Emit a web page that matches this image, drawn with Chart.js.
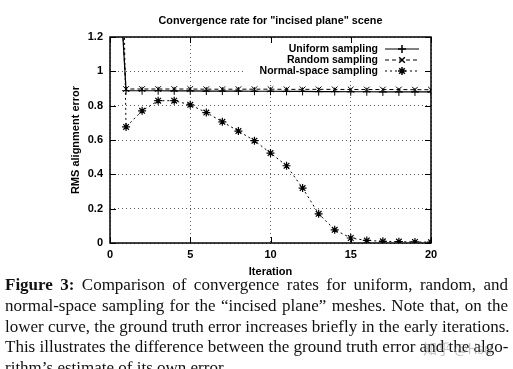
<!DOCTYPE html>
<html>
<head>
<meta charset="utf-8">
<script src="https://cdn.jsdelivr.net/npm/chart.js@4.4.1/dist/chart.umd.min.js"></script>
<style>
  html, body { margin: 0; padding: 0; background: #fff; overflow: hidden; }
  #wrap { position: absolute; left: 0; top: 0; width: 513px; height: 280px; }
  #caption {
    position: absolute; left: 5px; top: 275px; width: 503px;
    font-family: "Liberation Serif", "DejaVu Serif", serif;
    font-size: 17px; line-height: 20.8px; color: #111;
  }
  #caption div { text-align: justify; text-align-last: justify; white-space: nowrap; }
  #caption div.ult { text-align-last: left; }
  #wm { position: absolute; left: 423px; top: 338px; font-family: "Noto Sans CJK SC", sans-serif;
        font-size: 14px; color: rgba(140,140,140,0.5); }
</style>
</head>
<body>
<div id="wrap"><canvas id="graficoConv" width="513" height="280"></canvas></div>
<div id="caption">
  <div><b>Figure 3:</b> Comparison of convergence rates for uniform, random, and</div>
  <div>normal-space sampling for the “incised plane” meshes. Note that, on the</div>
  <div>lower curve, the ground truth error increases briefly in the early iterations.</div>
  <div>This illustrates the difference between the ground truth error and the algo-</div>
  <div class="ult">rithm’s estimate of its own error.</div>
</div>
<div id="wm">知乎 @Hsu</div>
<script>
// datos
const iteraciones = [0,1,2,3,4,5,6,7,8,9,10,11,12,13,14,15,16,17,18,19,20];
const uniforme = [2.5,0.887,0.887,0.887,0.886,0.886,0.885,0.885,0.885,0.884,0.884,0.883,0.883,0.882,0.882,0.881,0.881,0.880,0.880,0.880,0.880];
const aleatorio = [2.5,0.897,0.897,0.897,0.897,0.897,0.896,0.896,0.896,0.896,0.896,0.895,0.895,0.895,0.895,0.894,0.894,0.894,0.894,0.893,0.893];
const espacioNormal = [6,0.676,0.77,0.829,0.829,0.805,0.76,0.706,0.652,0.596,0.524,0.45,0.32,0.17,0.077,0.029,0.015,0.01,0.008,0.006,0.005];
const nombres = ["Uniform sampling", "Random sampling", "Normal-space sampling"];
const titulo = 'Convergence rate for "incised plane" scene';
const ticksX = [0,5,10,15,20];
const ticksY = [0,0.2,0.4,0.6,0.8,1,1.2];

const fuenteEje = { family: "'Liberation Sans', Arial, sans-serif", size: 11, weight: 'bold' };

// marco, ticks interiores, titulo y leyenda estilo gnuplot
const marcoPlugin = {
  id: 'marco',
  beforeDatasetsDraw(chart) {
    const a = chart.chartArea, ctx = chart.ctx;
    // caja opaca de la leyenda
    ctx.save();
    ctx.fillStyle = '#fff';
    ctx.fillRect(243, a.top + 1, a.right - 244, 40);
    ctx.restore();
  },
  afterDatasetsDraw(chart) {
    const a = chart.chartArea, ctx = chart.ctx;
    const sx = chart.scales.x, sy = chart.scales.y;
    ctx.save();
    ctx.strokeStyle = '#000';
    ctx.lineWidth = 1;
    ticksX.forEach(v => {
      const px = Math.round(sx.getPixelForValue(v)) + 0.5;
      ctx.beginPath();
      ctx.moveTo(px, a.bottom); ctx.lineTo(px, a.bottom - 6);
      ctx.moveTo(px, a.top); ctx.lineTo(px, a.top + 6);
      ctx.stroke();
    });
    ticksY.forEach(v => {
      const py = Math.round(sy.getPixelForValue(v)) + 0.5;
      ctx.beginPath();
      ctx.moveTo(a.left, py); ctx.lineTo(a.left + 6, py);
      ctx.moveTo(a.right, py); ctx.lineTo(a.right - 6, py);
      ctx.stroke();
    });
    ctx.lineWidth = 1.5;
    ctx.strokeRect(a.left, a.top, a.right - a.left, a.bottom - a.top);

    ctx.fillStyle = '#000';
    // titulo centrado sobre el area del grafico
    ctx.font = "bold 10.8px 'Liberation Sans', Arial, sans-serif";
    ctx.textAlign = 'center';
    ctx.textBaseline = 'middle';
    ctx.fillText(titulo, (a.left + a.right) / 2, 21);

    // leyenda
    ctx.font = "bold 10.5px 'Liberation Sans', Arial, sans-serif";
    ctx.textAlign = 'right';
    chart.data.datasets.forEach((ds, i) => {
      const y = 49 + i * 11;
      ctx.fillText(ds.label, 378, y);
      ctx.save();
      ctx.lineWidth = 1;
      ctx.setLineDash(ds.borderDash || []);
      ctx.beginPath();
      ctx.moveTo(385, y); ctx.lineTo(419, y);
      ctx.stroke();
      ctx.restore();
      Chart.helpers.drawPoint(ctx, { pointStyle: ds.pointStyle, radius: 4, borderWidth: 1 }, 402, y);
    });
    ctx.restore();
  }
};

const grid = {
  color: '#333',
  lineWidth: 0.8,
  drawTicks: false
};
const borde = { display: false, dash: [1, 3] };

new Chart(document.getElementById('graficoConv'), {
  type: 'line',
  data: {
    labels: iteraciones,
    datasets: [
      { label: nombres[0], data: uniforme, borderColor: '#000', backgroundColor: '#000', borderWidth: 1.2,
        pointStyle: 'cross', pointRadius: 4, pointBorderWidth: 1 },
      { label: nombres[1], data: aleatorio, borderColor: '#000', backgroundColor: '#000', borderWidth: 1,
        borderDash: [4, 3], pointStyle: 'crossRot', pointRadius: 4, pointBorderWidth: 1 },
      { label: nombres[2], data: espacioNormal, borderColor: '#000', backgroundColor: '#000', borderWidth: 1,
        borderDash: [2, 3], pointStyle: 'star', pointRadius: 4, pointBorderWidth: 1.2 }
    ]
  },
  options: {
    responsive: false,
    animation: false,
    layout: { padding: { left: 69, right: 82, top: 37, bottom: 0 } },
    plugins: {
      legend: { display: false },
      tooltip: { enabled: false },
      title: { display: false }
    },
    scales: {
      x: {
        type: 'linear', min: 0, max: 20,
        afterBuildTicks: s => { s.ticks = ticksX.map(v => ({ value: v })); },
        afterFit: s => { s.height = 37; },
        grid: grid,
        border: borde,
        ticks: { color: '#000', font: fuenteEje, padding: 5, maxRotation: 0 },
        title: { display: true, text: 'Iteration', color: '#000', font: fuenteEje, padding: { top: 0, bottom: 1 } }
      },
      y: {
        min: 0, max: 1.2,
        afterBuildTicks: s => { s.ticks = ticksY.map(v => ({ value: v })); },
        afterFit: s => { s.width = 41; },
        grid: grid,
        border: borde,
        ticks: { color: '#000', font: fuenteEje, padding: 7, callback: v => String(v) },
        title: { display: true, text: 'RMS alignment error', color: '#000', font: fuenteEje, padding: { top: 0, bottom: 0 } }
      }
    }
  },
  plugins: [marcoPlugin]
});
</script>
</body>
</html>
